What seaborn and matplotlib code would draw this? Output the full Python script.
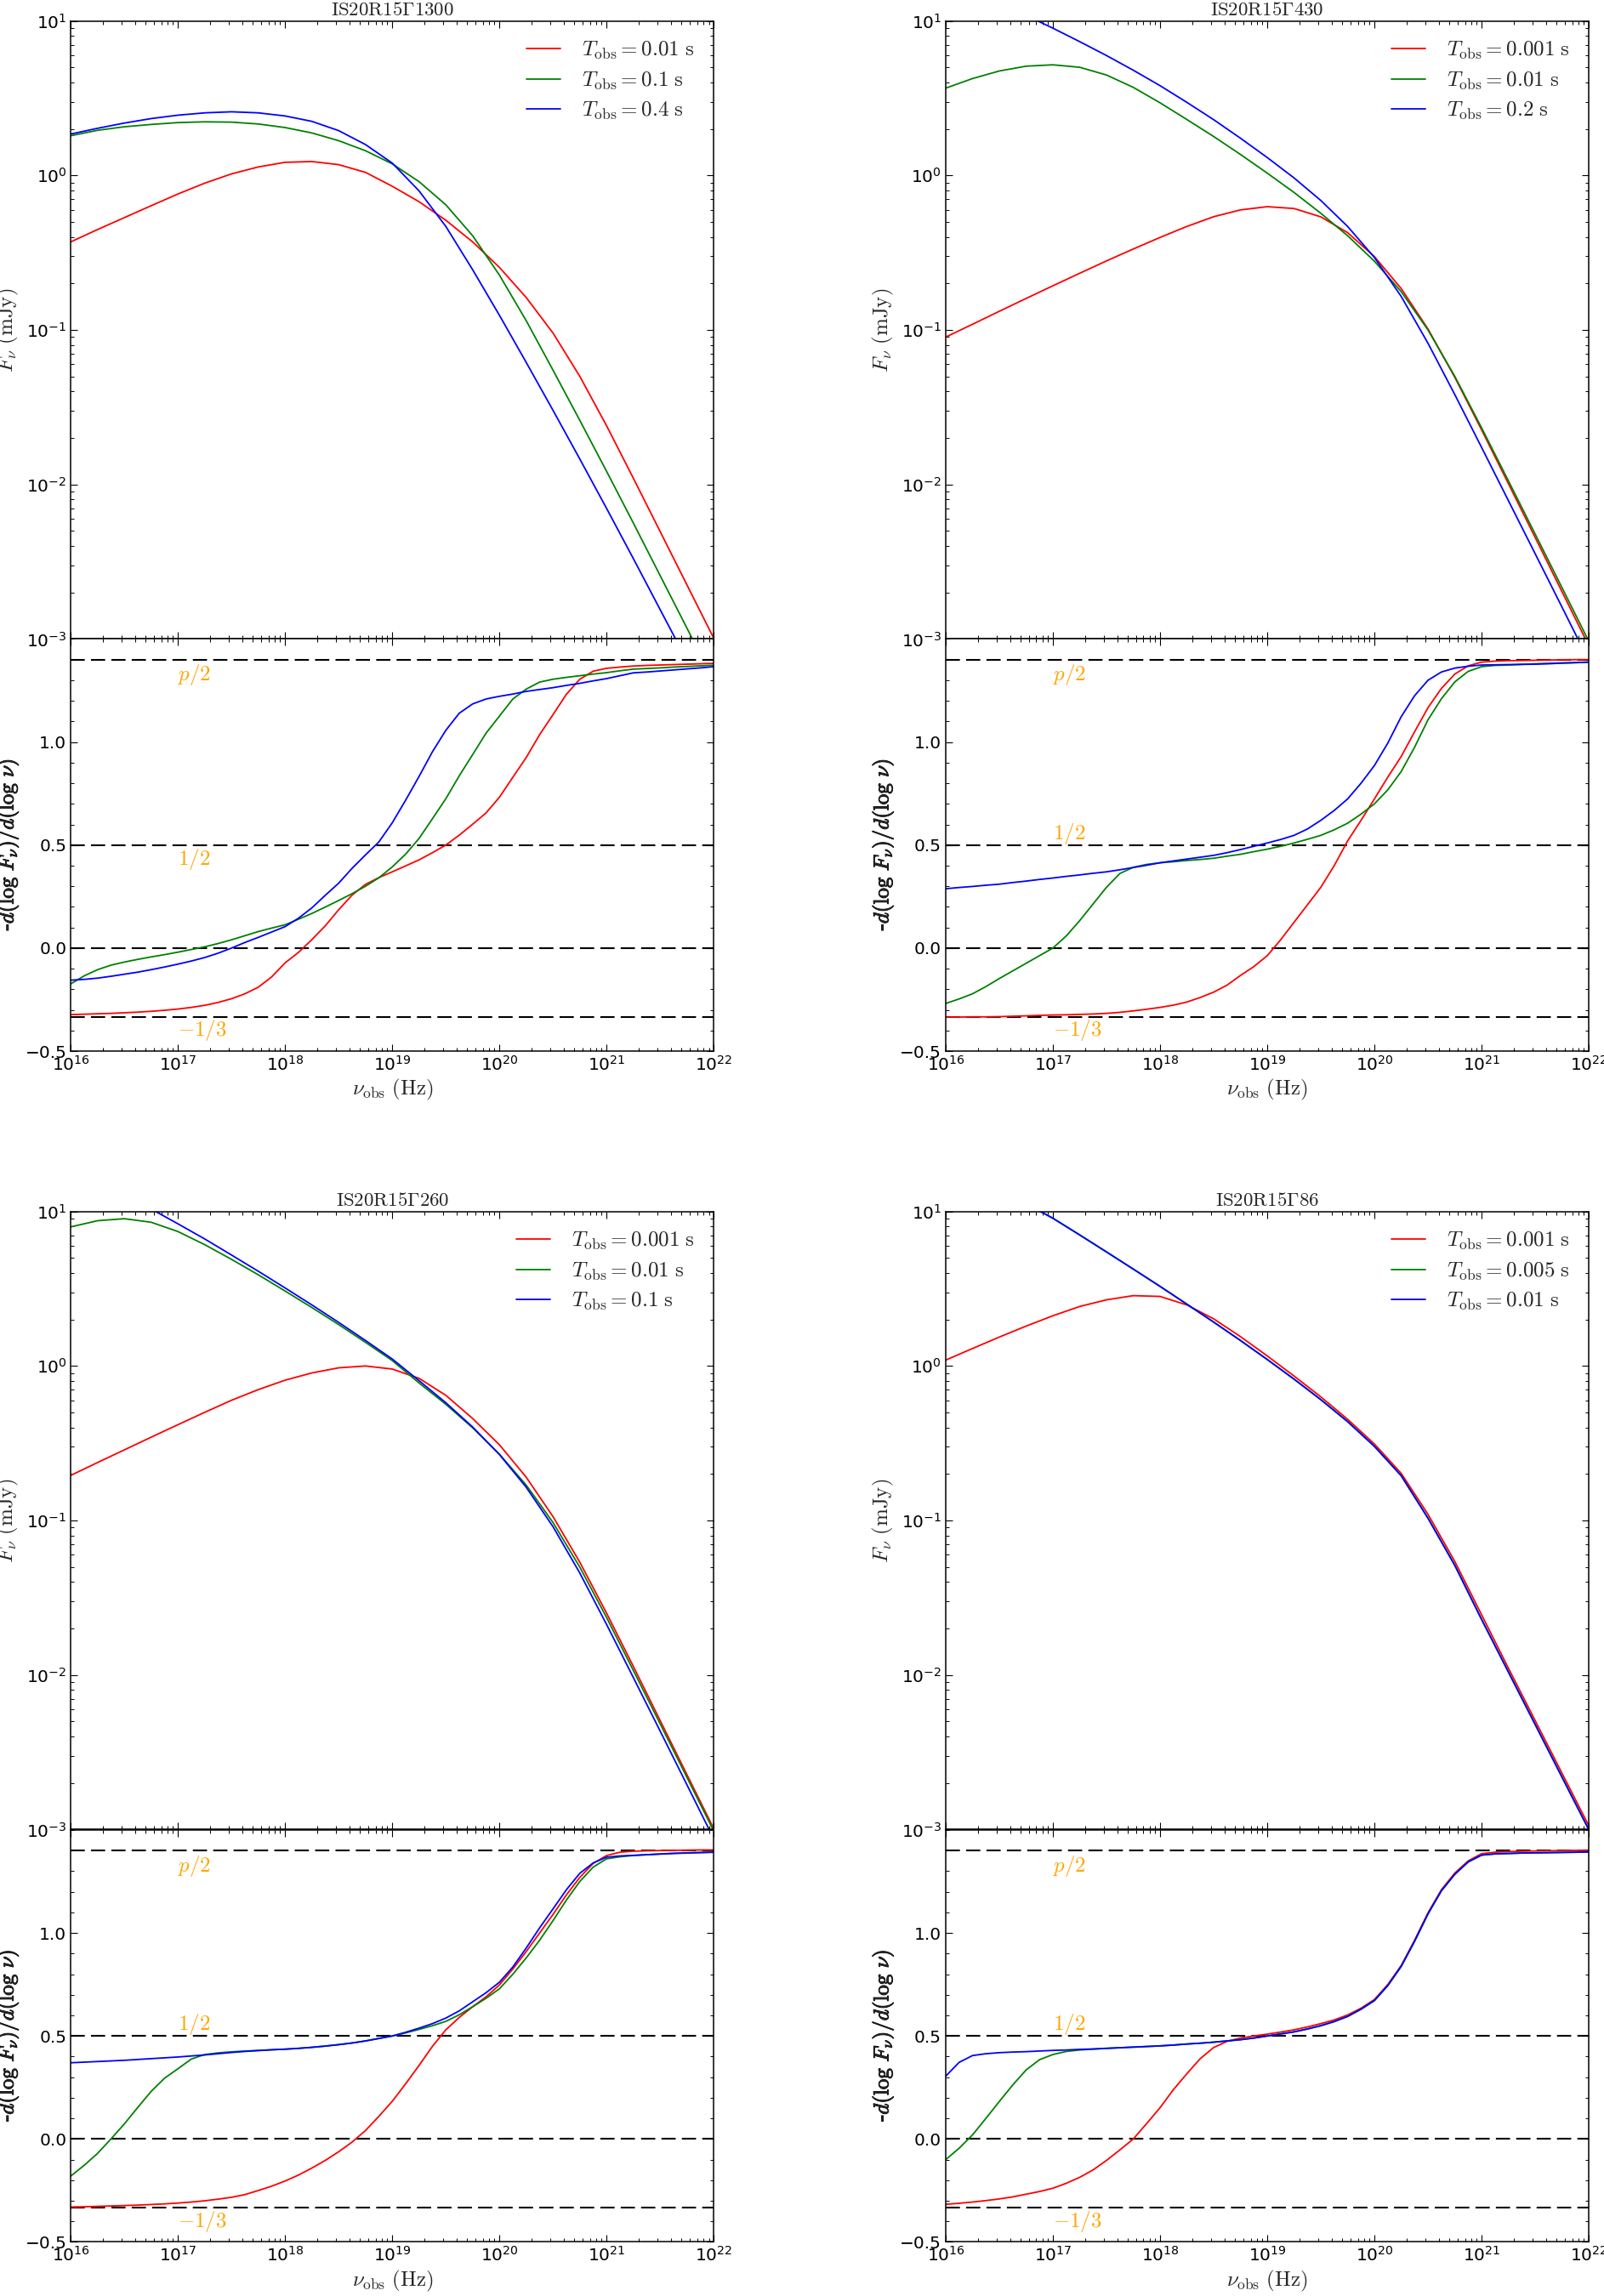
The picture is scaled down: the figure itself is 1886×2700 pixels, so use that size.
import numpy as np
import pandas as pd
import matplotlib
matplotlib.use("Agg")
import matplotlib.pyplot as plt
import matplotlib.patheffects as pe
import seaborn as sns
from matplotlib.ticker import MultipleLocator, LogLocator, NullFormatter

# ---------------- data ----------------
# log10(nu) grid used for the flux panels
LOG_NU = [16.0, 16.25, 16.5, 16.75, 17.0, 17.25, 17.5, 17.75, 18.0, 18.25, 18.5, 18.75,
          19.0, 19.25, 19.5, 19.75, 20.0, 20.25, 20.5, 20.75, 21.0, 21.25, 21.5, 21.75, 22.0]
# log10(nu) grid used for the slope panels
LOG_NU_SLOPE = [16.0, 16.125, 16.25, 16.375, 16.5, 16.625, 16.75, 16.875,
                17.0, 17.125, 17.25, 17.375, 17.5, 17.625, 17.75, 17.875,
                18.0, 18.125, 18.25, 18.375, 18.5, 18.625, 18.75, 18.875,
                19.0, 19.125, 19.25, 19.375, 19.5, 19.625, 19.75, 19.875,
                20.0, 20.125, 20.25, 20.375, 20.5, 20.625, 20.75, 20.875,
                21.0, 21.125, 21.25, 21.375, 21.5, 21.625, 21.75, 21.875, 22.0]

TITLES = [r"$\rm IS20R15\Gamma1300$", r"$\rm IS20R15\Gamma430$",
          r"$\rm IS20R15\Gamma260$", r"$\rm IS20R15\Gamma86$"]
T_OBS = [["0.01", "0.1", "0.4"], ["0.001", "0.01", "0.2"],
         ["0.001", "0.01", "0.1"], ["0.001", "0.005", "0.01"]]
COLORS = ["red", "green", "blue"]

# ---- log10 F_nu (mJy) ----
A_F_RED = [-0.43, -0.35, -0.273, -0.196, -0.12, -0.05, 0.01, 0.055, 0.085, 0.09, 0.07, 0.02,
           -0.07, -0.17, -0.29, -0.43, -0.595, -0.79, -1.02, -1.30, -1.62, -1.96, -2.305, -2.65, -2.995]
A_F_GREEN = [0.257, 0.292, 0.315, 0.33, 0.342, 0.347, 0.345, 0.333, 0.31, 0.275, 0.225, 0.16,
             0.075, -0.04, -0.19, -0.39, -0.645, -0.94, -1.26, -1.585, -1.915, -2.25, -2.59, -2.93, -3.27]
A_F_BLUE = [0.268, 0.305, 0.339, 0.368, 0.39, 0.405, 0.412, 0.405, 0.385, 0.35, 0.29, 0.20,
            0.08, -0.10, -0.33, -0.61, -0.905, -1.21, -1.52, -1.835, -2.155, -2.48, -2.81, -3.14, -3.48]

B_F_RED = [-1.046, -0.963, -0.879, -0.796, -0.714, -0.633, -0.553, -0.476, -0.401, -0.33, -0.267, -0.223,
           -0.202, -0.214, -0.268, -0.37, -0.525, -0.732, -0.994, -1.306, -1.646, -1.994, -2.343, -2.693, -3.043]
B_F_GREEN = [0.565, 0.627, 0.676, 0.707, 0.716, 0.70, 0.65, 0.57, 0.47, 0.362, 0.252, 0.136,
             0.015, -0.11, -0.245, -0.39, -0.555, -0.752, -1.0, -1.3, -1.633, -1.976, -2.321, -2.667, -3.014]
B_F_BLUE = [1.264, 1.19, 1.116, 1.036, 0.953, 0.866, 0.776, 0.681, 0.581, 0.473, 0.361, 0.241,
            0.116, -0.016, -0.162, -0.33, -0.531, -0.783, -1.086, -1.418, -1.76, -2.104, -2.448, -2.793, -3.14]

C_F_RED = [-0.708, -0.625, -0.543, -0.461, -0.38, -0.30, -0.222, -0.153, -0.092, -0.045, -0.012, 0.0,
           -0.02, -0.08, -0.19, -0.34, -0.51, -0.72, -0.975, -1.27, -1.60, -1.945, -2.295, -2.645, -2.995]
C_F_GREEN = [0.90, 0.94, 0.953, 0.93, 0.87, 0.785, 0.69, 0.59, 0.485, 0.378, 0.268, 0.153,
             0.035, -0.11, -0.248, -0.40, -0.571, -0.771, -1.013, -1.302, -1.628, -1.971, -2.316, -2.663, -3.01]
C_F_BLUE = [1.296, 1.203, 1.11, 1.016, 0.92, 0.822, 0.718, 0.613, 0.505, 0.395, 0.282, 0.165,
            0.045, -0.095, -0.238, -0.395, -0.573, -0.785, -1.04, -1.34, -1.673, -2.017, -2.363, -2.711, -3.06]

D_F_RED = [0.038, 0.113, 0.187, 0.258, 0.325, 0.385, 0.428, 0.455, 0.45, 0.395, 0.305, 0.19,
           0.065, -0.065, -0.2, -0.345, -0.505, -0.695, -0.96, -1.265, -1.61, -1.955, -2.295, -2.635, -2.975]
D_F_GREEN = [1.135, 1.143, 1.116, 1.05, 0.956, 0.848, 0.738, 0.627, 0.515, 0.40, 0.284, 0.165,
             0.042, -0.085, -0.218, -0.36, -0.52, -0.71, -0.985, -1.29, -1.64, -1.98, -2.32, -2.66, -3.0]
D_F_BLUE = [1.36, 1.262, 1.157, 1.05, 0.956, 0.848, 0.738, 0.627, 0.515, 0.40, 0.284, 0.165,
            0.042, -0.085, -0.218, -0.36, -0.52, -0.71, -0.985, -1.29, -1.64, -1.98, -2.32, -2.66, -3.0]

# ---- local slope -dlogF/dlognu ----
A_S_RED = [-0.323, -0.321, -0.319, -0.317, -0.314, -0.311, -0.307, -0.302,
           -0.296, -0.288, -0.278, -0.264, -0.246, -0.222, -0.19, -0.14,
           -0.072, -0.021, 0.041, 0.108, 0.186, 0.257, 0.309, 0.342,
           0.37, 0.399, 0.428, 0.463, 0.5, 0.548, 0.601, 0.656,
           0.732, 0.829, 0.925, 1.036, 1.133, 1.232, 1.305, 1.344,
           1.358, 1.364, 1.369, 1.372, 1.374, 1.376, 1.378, 1.38, 1.382]
A_S_GREEN = [-0.174, -0.135, -0.105, -0.083, -0.068, -0.055, -0.043, -0.032,
             -0.02, -0.007, 0.006, 0.022, 0.04, 0.06, 0.08, 0.097,
             0.113, 0.14, 0.168, 0.199, 0.231, 0.264, 0.3, 0.341,
             0.394, 0.456, 0.532, 0.628, 0.725, 0.836, 0.939, 1.043,
             1.126, 1.209, 1.257, 1.291, 1.305, 1.314, 1.322, 1.33,
             1.337, 1.346, 1.354, 1.357, 1.36, 1.364, 1.367, 1.37, 1.373]
A_S_BLUE = [-0.156, -0.152, -0.146, -0.137, -0.127, -0.117, -0.105, -0.092,
            -0.078, -0.063, -0.046, -0.025, 0.0, 0.027, 0.052, 0.078,
            0.104, 0.145, 0.195, 0.256, 0.315, 0.387, 0.452, 0.515,
            0.608, 0.718, 0.833, 0.953, 1.057, 1.14, 1.185, 1.209,
            1.222, 1.233, 1.246, 1.255, 1.264, 1.275, 1.285, 1.297,
            1.308, 1.322, 1.336, 1.34, 1.345, 1.35, 1.355, 1.36, 1.366]

B_S_RED = [-0.335, -0.335, -0.334, -0.334, -0.333, -0.331, -0.329, -0.327,
           -0.325, -0.324, -0.322, -0.32, -0.317, -0.312, -0.305, -0.297,
           -0.288, -0.277, -0.262, -0.24, -0.214, -0.18, -0.133, -0.09,
           -0.037, 0.04, 0.125, 0.21, 0.295, 0.4, 0.52, 0.62,
           0.724, 0.83, 0.93, 1.05, 1.167, 1.26, 1.33, 1.37,
           1.388, 1.393, 1.395, 1.396, 1.397, 1.398, 1.399, 1.40, 1.40]
B_S_GREEN = [-0.269, -0.247, -0.222, -0.187, -0.148, -0.111, -0.074, -0.037,
             0.0, 0.059, 0.133, 0.214, 0.295, 0.362, 0.392, 0.406,
             0.414, 0.419, 0.425, 0.43, 0.436, 0.446, 0.455, 0.468,
             0.48, 0.494, 0.51, 0.528, 0.547, 0.574, 0.606, 0.65,
             0.70, 0.768, 0.857, 0.975, 1.108, 1.21, 1.292, 1.343,
             1.366, 1.372, 1.374, 1.377, 1.38, 1.382, 1.384, 1.386, 1.388]
B_S_BLUE = [0.288, 0.294, 0.299, 0.305, 0.31, 0.318, 0.325, 0.333,
            0.34, 0.348, 0.355, 0.363, 0.37, 0.38, 0.391, 0.402,
            0.414, 0.423, 0.432, 0.441, 0.45, 0.463, 0.478, 0.494,
            0.51, 0.527, 0.547, 0.578, 0.62, 0.668, 0.724, 0.8,
            0.886, 0.995, 1.123, 1.225, 1.30, 1.34, 1.359, 1.368,
            1.374, 1.375, 1.376, 1.377, 1.378, 1.38, 1.383, 1.385, 1.388]

C_S_RED = [-0.33, -0.329, -0.327, -0.325, -0.323, -0.321, -0.318, -0.315,
           -0.311, -0.306, -0.3, -0.292, -0.283, -0.27, -0.25, -0.229,
           -0.204, -0.175, -0.141, -0.104, -0.062, -0.015, 0.041, 0.11,
           0.183, 0.268, 0.357, 0.45, 0.53, 0.59, 0.642, 0.69,
           0.748, 0.825, 0.91, 1.0, 1.09, 1.185, 1.27, 1.338,
           1.376, 1.392, 1.397, 1.399, 1.40, 1.401, 1.402, 1.403, 1.403]
C_S_GREEN = [-0.18, -0.128, -0.07, 0.0, 0.073, 0.153, 0.231, 0.295,
             0.341, 0.388, 0.41, 0.418, 0.423, 0.427, 0.43, 0.433,
             0.436, 0.44, 0.445, 0.451, 0.458, 0.466, 0.476, 0.488,
             0.50, 0.515, 0.532, 0.55, 0.571, 0.603, 0.642, 0.683,
             0.729, 0.80, 0.879, 0.965, 1.06, 1.16, 1.25, 1.32,
             1.36, 1.37, 1.376, 1.38, 1.384, 1.387, 1.389, 1.391, 1.392]
C_S_BLUE = [0.37, 0.373, 0.376, 0.379, 0.382, 0.386, 0.39, 0.394,
            0.398, 0.403, 0.408, 0.414, 0.42, 0.425, 0.429, 0.433,
            0.436, 0.44, 0.445, 0.451, 0.458, 0.466, 0.476, 0.488,
            0.50, 0.518, 0.538, 0.56, 0.587, 0.622, 0.666, 0.71,
            0.761, 0.835, 0.927, 1.025, 1.117, 1.21, 1.29, 1.34,
            1.368, 1.374, 1.377, 1.38, 1.383, 1.386, 1.388, 1.39, 1.392]

D_S_RED = [-0.317, -0.312, -0.306, -0.299, -0.291, -0.281, -0.268, -0.255,
           -0.239, -0.215, -0.186, -0.15, -0.104, -0.053, 0.0, 0.075,
           0.152, 0.24, 0.317, 0.39, 0.444, 0.474, 0.49, 0.5,
           0.509, 0.519, 0.53, 0.544, 0.56, 0.578, 0.602, 0.635,
           0.677, 0.75, 0.842, 0.965, 1.098, 1.21, 1.291, 1.35,
           1.385, 1.392, 1.395, 1.397, 1.398, 1.399, 1.40, 1.401, 1.402]
D_S_GREEN = [-0.10, -0.045, 0.02, 0.10, 0.182, 0.262, 0.335, 0.385,
             0.41, 0.425, 0.432, 0.436, 0.44, 0.443, 0.446, 0.449,
             0.452, 0.456, 0.461, 0.465, 0.47, 0.476, 0.482, 0.49,
             0.50, 0.51, 0.52, 0.534, 0.55, 0.57, 0.595, 0.63,
             0.672, 0.745, 0.838, 0.96, 1.093, 1.205, 1.285, 1.345,
             1.378, 1.384, 1.386, 1.388, 1.389, 1.39, 1.391, 1.392, 1.393]
D_S_BLUE = [0.305, 0.372, 0.405, 0.414, 0.419, 0.422, 0.424, 0.427,
            0.43, 0.432, 0.435, 0.437, 0.44, 0.443, 0.446, 0.449,
            0.452, 0.456, 0.461, 0.465, 0.47, 0.476, 0.482, 0.49,
            0.50, 0.51, 0.52, 0.534, 0.55, 0.57, 0.595, 0.63,
            0.672, 0.745, 0.838, 0.96, 1.093, 1.205, 1.285, 1.345,
            1.378, 1.384, 1.386, 1.388, 1.389, 1.39, 1.391, 1.392, 1.393]

FLUX = [[A_F_RED, A_F_GREEN, A_F_BLUE], [B_F_RED, B_F_GREEN, B_F_BLUE],
        [C_F_RED, C_F_GREEN, C_F_BLUE], [D_F_RED, D_F_GREEN, D_F_BLUE]]
SLOPE = [[A_S_RED, A_S_GREEN, A_S_BLUE], [B_S_RED, B_S_GREEN, B_S_BLUE],
         [C_S_RED, C_S_GREEN, C_S_BLUE], [D_S_RED, D_S_GREEN, D_S_BLUE]]

REF_LEVELS = [1.4, 0.5, 0.0, -1.0 / 3.0]
REF_LABELS = [r"$p/2$", r"$1/2$", r"$-1/3$"]
REF_LABEL_Y = [[1.326, 0.43, -0.40], [1.326, 0.555, -0.40],
               [1.326, 0.555, -0.40], [1.326, 0.555, -0.40]]

# ---------------- style ----------------
sns.set_style("ticks")
plt.rcParams.update({
    "font.family": ["DejaVu Sans"],
    "mathtext.fontset": "cm",
    "axes.edgecolor": "black",
    "axes.linewidth": 1.1,
    "xtick.direction": "in", "ytick.direction": "in",
    "xtick.top": True, "ytick.right": True,
    "xtick.color": "black", "ytick.color": "black",
    "xtick.major.size": 6, "ytick.major.size": 6,
    "xtick.minor.size": 3, "ytick.minor.size": 3,
    "xtick.major.width": 0.8, "ytick.major.width": 0.8,
    "xtick.minor.width": 0.7, "ytick.minor.width": 0.7,
    "xtick.labelsize": 14.5, "ytick.labelsize": 14.5,
    "axes.unicode_minus": True,
})

fig = plt.figure(figsize=(18.86, 27), dpi=100)
lefts = [0.0441, 0.5896]
width = 0.4009
upper_bottoms = [0.72167, 0.20315]
lower_bottoms = [0.54222, 0.02352]
h_up, h_low = 0.26922, 0.17945

nu_f = [10.0 ** v for v in LOG_NU]
nu_s = [10.0 ** v for v in LOG_NU_SLOPE]
FS = 18
FS_TITLE = 16.5

for k in range(4):
    r, c = divmod(k, 2)
    ax_u = fig.add_axes([lefts[c], upper_bottoms[r], width, h_up])
    ax_l = fig.add_axes([lefts[c], lower_bottoms[r], width, h_low])

    for ax in (ax_u, ax_l):
        ax.set_xscale("log")
        ax.set_xlim(1e16, 1e22)
    ax_u.set_yscale("log")
    ax_u.set_ylim(1e-3, 1e1)

    # upper panel: spectra
    for j in range(3):
        df = pd.DataFrame({"nu": nu_f, "F": [10.0 ** v for v in FLUX[k][j]]})
        sns.lineplot(data=df, x="nu", y="F", ax=ax_u, color=COLORS[j], lw=1.3,
                     estimator=None, label=r"$T_{\rm obs}=%s\ {\rm s}$" % T_OBS[k][j])
    ax_u.set_ylim(1e-3, 1e1)
    ax_u.set_xlim(1e16, 1e22)
    ax_u.set_xlabel("")
    ax_u.set_ylabel(r"$F_\nu\ (\rm mJy)$", fontsize=FS)
    ax_u.yaxis.set_label_coords(-0.078, 0.5)
    ax_u.set_title(TITLES[k], fontsize=FS_TITLE, pad=5)
    ax_u.legend(loc="upper right", frameon=False, fontsize=FS, handlelength=1.6,
                handletextpad=1.0, labelspacing=0.4)

    # lower panel: local spectral slope
    for lvl in REF_LEVELS:
        ax_l.axhline(lvl, color="black", lw=1.5, linestyle=(0, (8, 3.5)), zorder=1)
    for j in range(3):
        df = pd.DataFrame({"nu": nu_s, "s": SLOPE[k][j]})
        sns.lineplot(data=df, x="nu", y="s", ax=ax_l, color=COLORS[j], lw=1.3,
                     estimator=None, legend=False, zorder=2)
    for lab, yy in zip(REF_LABELS, REF_LABEL_Y[k]):
        ax_l.text(1e17, yy, lab, color="orange", fontsize=FS, ha="left", va="center")
    ax_l.set_xlim(1e16, 1e22)
    ax_l.set_ylim(-0.5, 1.5)
    ax_l.set_yticks([-0.5, 0.0, 0.5, 1.0])
    ax_l.yaxis.set_minor_locator(MultipleLocator(0.1))
    ax_l.set_xlabel(r"$\nu_{\rm obs}\ (\rm Hz)$", fontsize=FS, labelpad=3)
    ylab = ax_l.set_ylabel(r"-$d(\log\,F_\nu)/d(\log\,\nu)$", fontsize=FS)
    ylab.set_path_effects([pe.withStroke(linewidth=0.7, foreground="black")])
    ax_l.yaxis.set_label_coords(-0.078, 0.5)

    for ax in (ax_u, ax_l):
        ax.xaxis.set_major_locator(LogLocator(base=10, numticks=20))
        ax.xaxis.set_minor_locator(LogLocator(base=10, subs=np.arange(2, 10) * 1.0, numticks=100))
        ax.xaxis.set_minor_formatter(NullFormatter())
        ax.tick_params(which="both", top=True, right=True, direction="in")
    ax_u.tick_params(labelbottom=False)

fig.savefig("out.png", dpi=100)
